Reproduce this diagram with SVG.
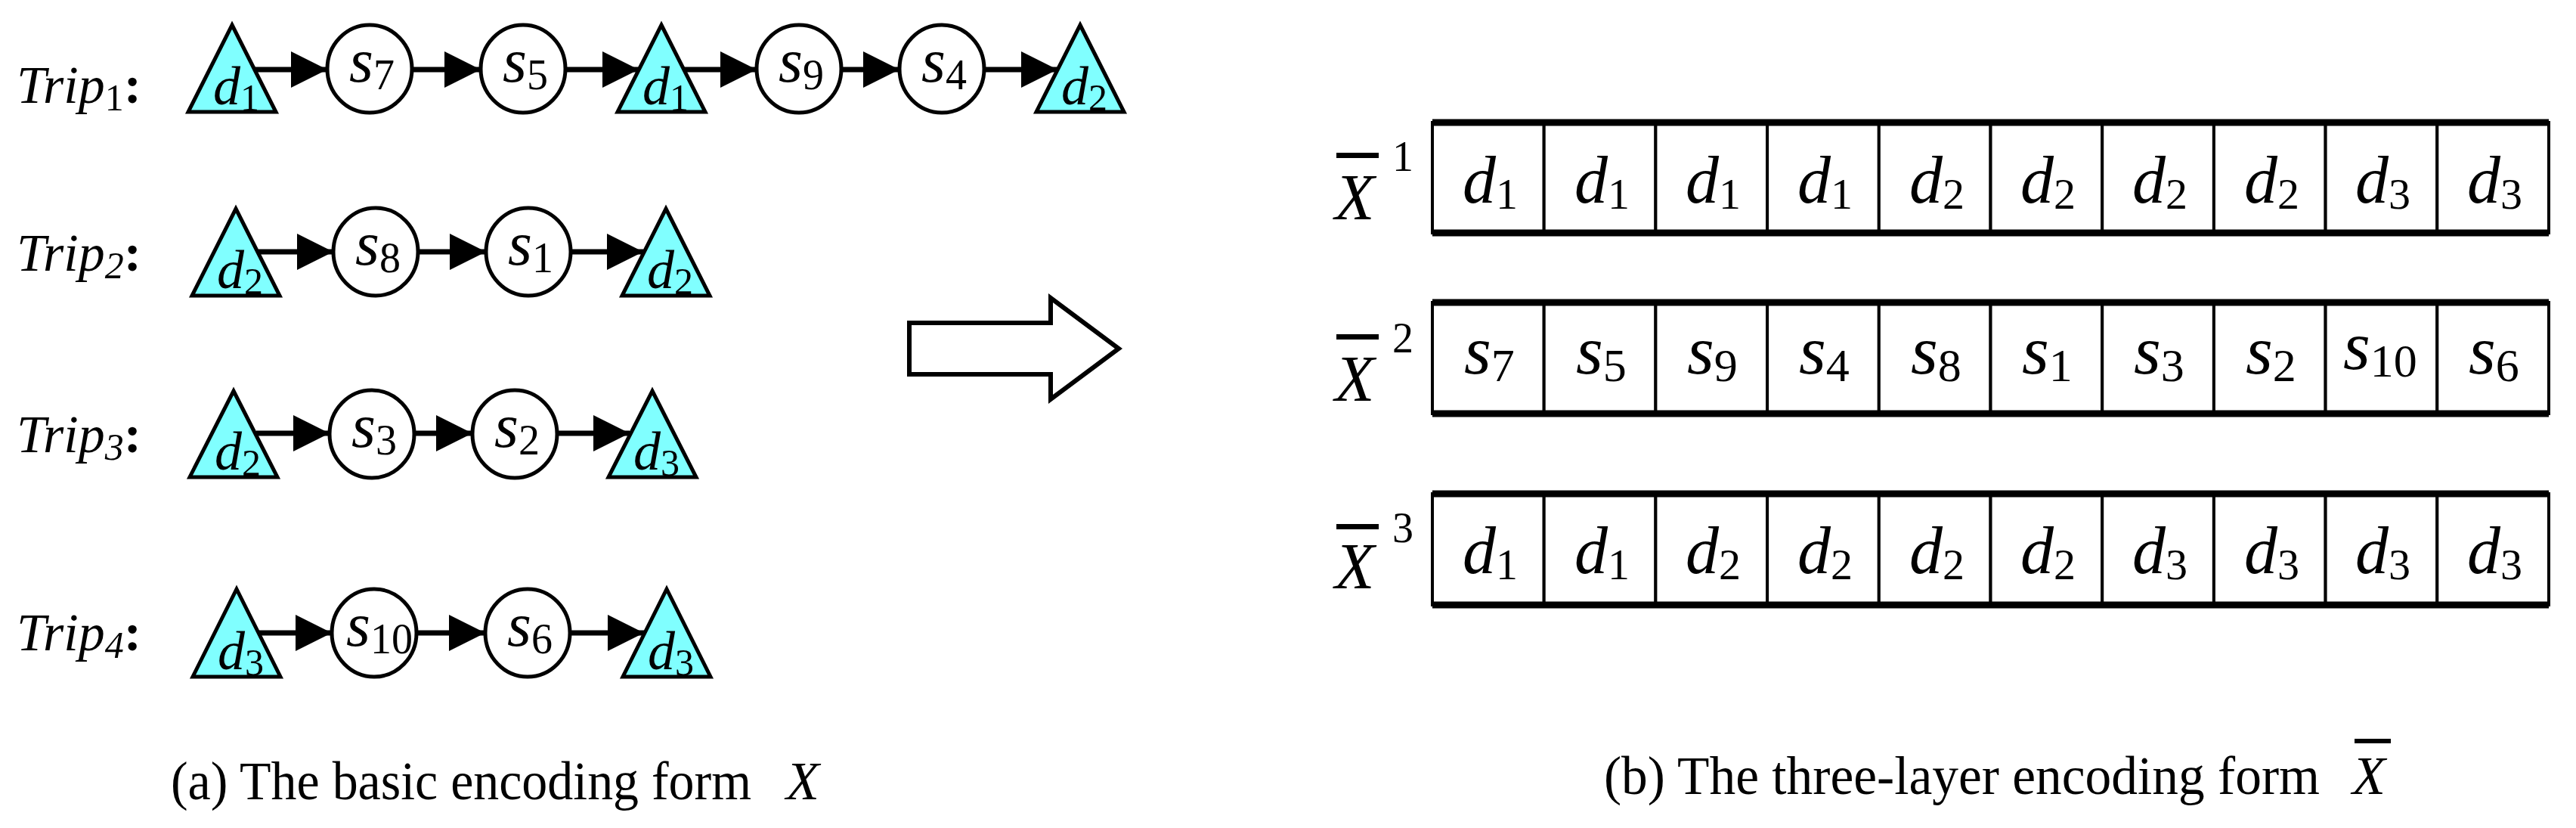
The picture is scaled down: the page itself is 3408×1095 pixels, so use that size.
<svg xmlns="http://www.w3.org/2000/svg" width="3408" height="1095" viewBox="0 0 3408 1095" font-family="'Liberation Serif', 'Times New Roman', Times, 'DejaVu Serif', serif">
<style>
.tri{fill:#80FFFF;stroke:#000;stroke-width:5}
.cir{fill:#fff;stroke:#000;stroke-width:5}
text{font-family:"Liberation Serif","Times New Roman","DejaVu Serif",serif;fill:#000}
.i{font-style:italic}
.u{font-style:normal}
.cell{fill:#fff;stroke:#000;stroke-width:4}
.frame{fill:none;stroke:#000;stroke-width:9}
.con{stroke:#000;stroke-width:7;fill:none;marker-end:url(#ah)}
</style>
<defs>
<marker id="ah" markerUnits="userSpaceOnUse" markerWidth="50" markerHeight="50" refX="48" refY="24" orient="auto"><path d="M0,0 L48,24 L0,48 Z" fill="#000"/></marker>
</defs>
<rect width="3408" height="1095" fill="#fff"/>
<g id="labels">
<text x="22" y="136" font-size="70"><tspan class="i">Trip</tspan><tspan font-size="50" dy="10">1</tspan><tspan font-weight="bold" dy="-10">:</tspan></text>
<text x="22" y="358" font-size="70"><tspan class="i">Trip</tspan><tspan class="i" font-size="50" dy="10">2</tspan><tspan font-weight="bold" dy="-10">:</tspan></text>
<text x="22" y="598" font-size="70"><tspan class="i">Trip</tspan><tspan class="i" font-size="50" dy="10">3</tspan><tspan font-weight="bold" dy="-10">:</tspan></text>
<text x="22" y="860" font-size="70"><tspan class="i">Trip</tspan><tspan class="i" font-size="50" dy="10">4</tspan><tspan font-weight="bold" dy="-10">:</tspan></text>
</g>
<g id="connectors">
<path class="con" d="M337,92 H433"/>
<path class="con" d="M545,92 H636"/>
<path class="con" d="M748,92 H845"/>
<path class="con" d="M905,92 H1001"/>
<path class="con" d="M1113,92 H1190"/>
<path class="con" d="M1302,92 H1399"/>
<path class="con" d="M342,333 H441"/>
<path class="con" d="M553,333 H643"/>
<path class="con" d="M755,333 H851"/>
<path class="con" d="M339,573 H436"/>
<path class="con" d="M548,573 H625"/>
<path class="con" d="M737,573 H833"/>
<path class="con" d="M343,837 H439"/>
<path class="con" d="M552,837 H642"/>
<path class="con" d="M754,837 H852"/>
</g>
<g id="t1d1a"><polygon class="tri" points="307,33 365,148 249,148"/><text class="i" x="282" y="138" font-size="72">d<tspan class="u" font-size="50" dy="8">1</tspan></text></g>
<g id="t1s7"><ellipse class="cir" cx="489" cy="91" rx="56" ry="58"/><text class="i" x="462" y="108" font-size="82">s<tspan class="u" font-size="56" dy="10">7</tspan></text></g>
<g id="t1s5"><ellipse class="cir" cx="692" cy="91" rx="56" ry="58"/><text class="i" x="665" y="108" font-size="82">s<tspan class="u" font-size="56" dy="10">5</tspan></text></g>
<g id="t1d1b"><polygon class="tri" points="875,33 933,148 817,148"/><text class="i" x="850" y="138" font-size="72">d<tspan class="u" font-size="50" dy="8">1</tspan></text></g>
<g id="t1s9"><ellipse class="cir" cx="1057" cy="91" rx="56" ry="58"/><text class="i" x="1030" y="108" font-size="82">s<tspan class="u" font-size="56" dy="10">9</tspan></text></g>
<g id="t1s4"><ellipse class="cir" cx="1246" cy="91" rx="56" ry="58"/><text class="i" x="1219" y="108" font-size="82">s<tspan class="u" font-size="56" dy="10">4</tspan></text></g>
<g id="t1d2"><polygon class="tri" points="1429,33 1487,148 1371,148"/><text class="i" x="1404" y="138" font-size="72">d<tspan class="u" font-size="50" dy="8">2</tspan></text></g>
<g id="t2d2a"><polygon class="tri" points="312,276 370,391 254,391"/><text class="i" x="287" y="381" font-size="72">d<tspan class="u" font-size="50" dy="8">2</tspan></text></g>
<g id="t2s8"><ellipse class="cir" cx="497" cy="333" rx="56" ry="58"/><text class="i" x="470" y="350" font-size="82">s<tspan class="u" font-size="56" dy="10">8</tspan></text></g>
<g id="t2s1"><ellipse class="cir" cx="699" cy="333" rx="56" ry="58"/><text class="i" x="672" y="350" font-size="82">s<tspan class="u" font-size="56" dy="10">1</tspan></text></g>
<g id="t2d2b"><polygon class="tri" points="881,276 939,391 823,391"/><text class="i" x="856" y="381" font-size="72">d<tspan class="u" font-size="50" dy="8">2</tspan></text></g>
<g id="t3d2"><polygon class="tri" points="309,517 367,631 251,631"/><text class="i" x="284" y="621" font-size="72">d<tspan class="u" font-size="50" dy="8">2</tspan></text></g>
<g id="t3s3"><ellipse class="cir" cx="492" cy="574" rx="56" ry="58"/><text class="i" x="465" y="591" font-size="82">s<tspan class="u" font-size="56" dy="10">3</tspan></text></g>
<g id="t3s2"><ellipse class="cir" cx="681" cy="574" rx="56" ry="58"/><text class="i" x="654" y="591" font-size="82">s<tspan class="u" font-size="56" dy="10">2</tspan></text></g>
<g id="t3d3"><polygon class="tri" points="863,517 921,631 805,631"/><text class="i" x="838" y="621" font-size="72">d<tspan class="u" font-size="50" dy="8">3</tspan></text></g>
<g id="t4d3a"><polygon class="tri" points="313,779 371,895 255,895"/><text class="i" x="288" y="885" font-size="72">d<tspan class="u" font-size="50" dy="8">3</tspan></text></g>
<g id="t4s10"><ellipse class="cir" cx="495" cy="837" rx="56" ry="58"/><text class="i" x="458" y="854" font-size="82">s<tspan class="u" font-size="56" dy="10">10</tspan></text></g>
<g id="t4s6"><ellipse class="cir" cx="698" cy="837" rx="56" ry="58"/><text class="i" x="671" y="854" font-size="82">s<tspan class="u" font-size="56" dy="10">6</tspan></text></g>
<g id="t4d3b"><polygon class="tri" points="882,779 940,895 824,895"/><text class="i" x="857" y="885" font-size="72">d<tspan class="u" font-size="50" dy="8">3</tspan></text></g>
<g id="bigarrow"><polygon points="1203,427 1390,427 1390,394 1480,461 1390,528 1390,495 1203,495" fill="#fff" stroke="#000" stroke-width="6"/></g>
<g id="capA"><text x="226" y="1057" font-size="72" textLength="768" lengthAdjust="spacingAndGlyphs">(a) The basic encoding form</text><text class="i" x="1040" y="1057" font-size="72">X</text></g>
<g id="row1">
<rect class="cell" x="1895" y="162" width="147.7" height="146"/><rect class="cell" x="2042.7" y="162" width="147.7" height="146"/><rect class="cell" x="2190.4" y="162" width="147.7" height="146"/><rect class="cell" x="2338.1" y="162" width="147.7" height="146"/><rect class="cell" x="2485.8" y="162" width="147.7" height="146"/><rect class="cell" x="2633.5" y="162" width="147.7" height="146"/><rect class="cell" x="2781.2" y="162" width="147.7" height="146"/><rect class="cell" x="2928.9" y="162" width="147.7" height="146"/><rect class="cell" x="3076.6" y="162" width="147.7" height="146"/><rect class="cell" x="3224.3" y="162" width="147.7" height="146"/>
<path class="frame" d="M1895,162 H3372 M1895,308 H3372"/>
<g class="i" font-size="88">
<text x="1935" y="268">d<tspan class="u" font-size="58" dy="8">1</tspan></text><text x="2083" y="268">d<tspan class="u" font-size="58" dy="8">1</tspan></text><text x="2230" y="268">d<tspan class="u" font-size="58" dy="8">1</tspan></text><text x="2378" y="268">d<tspan class="u" font-size="58" dy="8">1</tspan></text><text x="2526" y="268">d<tspan class="u" font-size="58" dy="8">2</tspan></text><text x="2673" y="268">d<tspan class="u" font-size="58" dy="8">2</tspan></text><text x="2821" y="268">d<tspan class="u" font-size="58" dy="8">2</tspan></text><text x="2969" y="268">d<tspan class="u" font-size="58" dy="8">2</tspan></text><text x="3116" y="268">d<tspan class="u" font-size="58" dy="8">3</tspan></text><text x="3264" y="268">d<tspan class="u" font-size="58" dy="8">3</tspan></text>
</g>
<text class="i" x="1766" y="290" font-size="86">X</text><rect x="1768" y="202" width="56" height="7" fill="#000"/><text x="1842" y="226" font-size="56">1</text>
</g>
<g id="row2">
<rect class="cell" x="1895" y="400" width="147.7" height="147"/><rect class="cell" x="2042.7" y="400" width="147.7" height="147"/><rect class="cell" x="2190.4" y="400" width="147.7" height="147"/><rect class="cell" x="2338.1" y="400" width="147.7" height="147"/><rect class="cell" x="2485.8" y="400" width="147.7" height="147"/><rect class="cell" x="2633.5" y="400" width="147.7" height="147"/><rect class="cell" x="2781.2" y="400" width="147.7" height="147"/><rect class="cell" x="2928.9" y="400" width="147.7" height="147"/><rect class="cell" x="3076.6" y="400" width="147.7" height="147"/><rect class="cell" x="3224.3" y="400" width="147.7" height="147"/>
<path class="frame" d="M1895,400 H3372 M1895,547 H3372"/>
<g class="i" font-size="92">
<text x="1937" y="494">s<tspan class="u" font-size="62" dy="10">7</tspan></text><text x="2085" y="494">s<tspan class="u" font-size="62" dy="10">5</tspan></text><text x="2232" y="494">s<tspan class="u" font-size="62" dy="10">9</tspan></text><text x="2380" y="494">s<tspan class="u" font-size="62" dy="10">4</tspan></text><text x="2528" y="494">s<tspan class="u" font-size="62" dy="10">8</tspan></text><text x="2675" y="494">s<tspan class="u" font-size="62" dy="10">1</tspan></text><text x="2823" y="494">s<tspan class="u" font-size="62" dy="10">3</tspan></text><text x="2971" y="494">s<tspan class="u" font-size="62" dy="10">2</tspan></text><text x="3100" y="488">s<tspan class="u" font-size="62" dy="10">10</tspan></text><text x="3266" y="494">s<tspan class="u" font-size="62" dy="10">6</tspan></text>
</g>
<text class="i" x="1766" y="530" font-size="86">X</text><rect x="1768" y="442" width="56" height="7" fill="#000"/><text x="1842" y="466" font-size="56">2</text>
</g>
<g id="row3">
<rect class="cell" x="1895" y="653" width="147.7" height="147"/><rect class="cell" x="2042.7" y="653" width="147.7" height="147"/><rect class="cell" x="2190.4" y="653" width="147.7" height="147"/><rect class="cell" x="2338.1" y="653" width="147.7" height="147"/><rect class="cell" x="2485.8" y="653" width="147.7" height="147"/><rect class="cell" x="2633.5" y="653" width="147.7" height="147"/><rect class="cell" x="2781.2" y="653" width="147.7" height="147"/><rect class="cell" x="2928.9" y="653" width="147.7" height="147"/><rect class="cell" x="3076.6" y="653" width="147.7" height="147"/><rect class="cell" x="3224.3" y="653" width="147.7" height="147"/>
<path class="frame" d="M1895,653 H3372 M1895,800 H3372"/>
<g class="i" font-size="88">
<text x="1935" y="758">d<tspan class="u" font-size="58" dy="8">1</tspan></text><text x="2083" y="758">d<tspan class="u" font-size="58" dy="8">1</tspan></text><text x="2230" y="758">d<tspan class="u" font-size="58" dy="8">2</tspan></text><text x="2378" y="758">d<tspan class="u" font-size="58" dy="8">2</tspan></text><text x="2526" y="758">d<tspan class="u" font-size="58" dy="8">2</tspan></text><text x="2673" y="758">d<tspan class="u" font-size="58" dy="8">2</tspan></text><text x="2821" y="758">d<tspan class="u" font-size="58" dy="8">3</tspan></text><text x="2969" y="758">d<tspan class="u" font-size="58" dy="8">3</tspan></text><text x="3116" y="758">d<tspan class="u" font-size="58" dy="8">3</tspan></text><text x="3264" y="758">d<tspan class="u" font-size="58" dy="8">3</tspan></text>
</g>
<text class="i" x="1766" y="778" font-size="86">X</text><rect x="1768" y="693" width="56" height="7" fill="#000"/><text x="1842" y="717" font-size="56">3</text>
</g>
<g id="capB"><text x="2122" y="1050" font-size="72" textLength="947" lengthAdjust="spacingAndGlyphs">(b) The three-layer encoding form</text><text class="i" x="3112" y="1050" font-size="72">X</text><rect x="3115" y="977" width="48" height="6" fill="#000"/></g>
</svg>
